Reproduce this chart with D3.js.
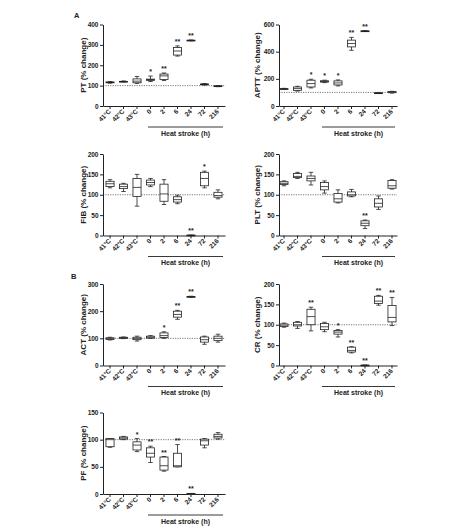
<!DOCTYPE html>
<html><head><meta charset="utf-8">
<script src="https://cdn.jsdelivr.net/npm/d3@7"></script>
<style>
body{margin:0;background:#fff;}
svg text{font-family:"Liberation Sans",Arial,sans-serif;font-weight:bold;fill:#222;}
</style></head>
<body><svg id="c" width="474" height="529"></svg>
<script>
const cats = ["41°C","42°C","43°C","0","2","6","24","72","216"];

// [min, q1, median, q3, max] per category
const ptStats = [[112,114,116,118,120],[118,119,120,121,123],[111,114,122,133,145],[120,125,130,132,147],[125,130,148,157,162],[245,250,270,287,295],[320,321,322,323,324],[103,105,107,108,110],[95,96,98,99,100]];
const ptStars = ["","","","*","**","**","**","",""];
const ptTicks = [0,100,200,300,400];

const apttStats = [[122,124,126,128,130],[110,115,128,140,145],[133,140,165,190,197],[172,176,180,186,190],[148,155,170,185,192],[410,435,460,485,505],[550,551,552,553,555],[94,95,96,97,98],[95,98,103,106,108]];
const apttStars = ["","","*","*","*","**","**","",""];
const apttTicks = [0,200,400,600];

const fibStats = [[117,120,127,133,137],[108,115,120,126,128],[72,96,118,140,150],[120,124,130,136,140],[76,84,102,126,137],[78,82,88,95,99],[0,0,0.5,1,1],[117,122,140,155,158],[90,94,98,106,112]];
const fibStars = ["","","","","","","**","*",""];
const fibTicks = [0,50,100,150,200];

const pltStats = [[122,125,128,132,134],[140,142,145,152,155],[124,134,140,146,155],[104,112,120,130,134],[80,82,90,103,112],[95,97,100,107,113],[17,24,30,36,38],[64,70,79,90,97],[114,116,122,135,137]];
const pltStars = ["","","","","","","**","",""];
const pltTicks = [0,50,100,150,200];

const actStats = [[94,96,99,102,104],[99,100,102,104,105],[90,95,99,104,108],[100,101,104,108,110],[100,103,110,120,124],[170,178,188,200,203],[251,252,253,254,255],[78,86,95,105,108],[86,92,100,108,115]];
const actStars = ["","","","","*","**","**","",""];
const actTicks = [0,100,200,300];

const crStats = [[94,96,99,102,104],[91,97,100,106,108],[85,100,120,138,143],[83,88,95,103,106],[70,77,82,86,88],[31,33,37,45,46],[0,0,0.5,1,1],[148,152,158,170,172],[98,107,118,147,167]];
const crStars = ["","","**","","*","**","**","**","**"];
const crTicks = [0,50,100,150,200];

const pfStats = [[86,87,100,102,102],[100,101,103,105,106],[78,81,90,96,102],[58,68,75,85,88],[42,44,52,68,69],[50,50,52,75,91],[0,0,0.5,1,1],[85,90,98,101,102],[101,103,106,110,113]];
const pfStars = ["","","*","**","**","**","**","",""];
const pfTicks = [0,50,100,150];

const svg = d3.select("#c");
svg.append("rect").attr("width",474).attr("height",529).attr("fill","#fff");

const cols = [{x0:103,x1:225,title:83,po:0.22},{x0:279,x1:397,title:257,po:0.07}];
const rows = [24.5,154,284,412.5];
const H = 81.5;

function panel(col,row,label,stats,stars,ticks){
  const c = cols[col], top = rows[row], bot = top+H;
  const g = svg.append("g");
  const x = d3.scaleBand().domain(cats).range([c.x0,c.x1]).paddingInner(0.4).paddingOuter(c.po);
  const y = d3.scaleLinear().domain([0,ticks[ticks.length-1]]).range([bot,top]);
  const bw = x.bandwidth(), cx = d => x(d)+bw/2;

  // reference line at 100
  g.append("line").attr("x1",c.x0).attr("x2",c.x1).attr("y1",y(100)).attr("y2",y(100))
    .attr("stroke","#555").attr("stroke-width",0.8).attr("stroke-dasharray","1.2,1.2");

  const ya = g.append("g").attr("transform",`translate(${c.x0},0)`)
    .call(d3.axisLeft(y).tickValues(ticks).tickSize(3).tickSizeOuter(0));
  const xa = g.append("g").attr("transform",`translate(0,${bot})`)
    .call(d3.axisBottom(x).tickSize(3).tickSizeOuter(0));
  [ya,xa].forEach(a=>{a.selectAll("path,line").attr("stroke","#222").attr("stroke-width",1);
    a.selectAll("text").style("font-size","6.5px");});
  ya.selectAll("text").attr("x",-4.5);
  xa.selectAll("text").attr("text-anchor","end").attr("dy",0)
    .attr("transform","translate(0,3) rotate(-45)").attr("x",-1).attr("y",3);

  // boxes
  const bx = g.selectAll(".b").data(stats.map((s,i)=>({c:cats[i],s,star:stars[i]}))).join("g");
  const cap = bw*0.55;
  bx.append("line").attr("x1",d=>cx(d.c)).attr("x2",d=>cx(d.c)).attr("y1",d=>y(d.s[0])).attr("y2",d=>y(d.s[4]))
    .attr("stroke","#222").attr("stroke-width",0.8);
  bx.append("line").attr("x1",d=>cx(d.c)-cap/2).attr("x2",d=>cx(d.c)+cap/2).attr("y1",d=>y(d.s[4])).attr("y2",d=>y(d.s[4]))
    .attr("stroke","#222").attr("stroke-width",0.8);
  bx.append("line").attr("x1",d=>cx(d.c)-cap/2).attr("x2",d=>cx(d.c)+cap/2).attr("y1",d=>y(d.s[0])).attr("y2",d=>y(d.s[0]))
    .attr("stroke","#222").attr("stroke-width",0.8);
  bx.append("rect").attr("x",d=>x(d.c)).attr("width",bw).attr("y",d=>y(d.s[3]))
    .attr("height",d=>Math.max(0.8,y(d.s[1])-y(d.s[3])))
    .attr("fill","#fff").attr("stroke","#222").attr("stroke-width",0.8);
  bx.append("line").attr("x1",d=>x(d.c)).attr("x2",d=>x(d.c)+bw).attr("y1",d=>y(d.s[2])).attr("y2",d=>y(d.s[2]))
    .attr("stroke","#222").attr("stroke-width",0.8);
  bx.append("text").attr("x",d=>cx(d.c)).attr("y",d=>y(d.s[4])-2).attr("text-anchor","middle")
    .style("font-size","7px").text(d=>d.star);

  // heat stroke bracket
  const hx0 = cx("0")-2.5, hx1 = c.x1-2;
  g.append("line").attr("x1",hx0).attr("x2",hx1).attr("y1",bot+21).attr("y2",bot+21)
    .attr("stroke","#222").attr("stroke-width",0.9);
  g.append("text").attr("x",(hx0+hx1)/2).attr("y",bot+29.5).attr("text-anchor","middle")
    .style("font-size","7px").text("Heat stroke (h)");

  g.append("text").attr("transform",`translate(${c.title},${(top+bot)/2}) rotate(-90)`)
    .attr("text-anchor","middle").attr("dy","0.35em").style("font-size","8px").text(label+" (% change)");
}

panel(0,0,"PT",ptStats,ptStars,ptTicks);
panel(1,0,"APTT",apttStats,apttStars,apttTicks);
panel(0,1,"FIB",fibStats,fibStars,fibTicks);
panel(1,1,"PLT",pltStats,pltStars,pltTicks);
panel(0,2,"ACT",actStats,actStars,actTicks);
panel(1,2,"CR",crStats,crStars,crTicks);
panel(0,3,"PF",pfStats,pfStars,pfTicks);

svg.append("text").attr("x",74).attr("y",18).style("font-size","7.5px").text("A");
svg.append("text").attr("x",71).attr("y",279).style("font-size","7.5px").text("B");
</script></body></html>
